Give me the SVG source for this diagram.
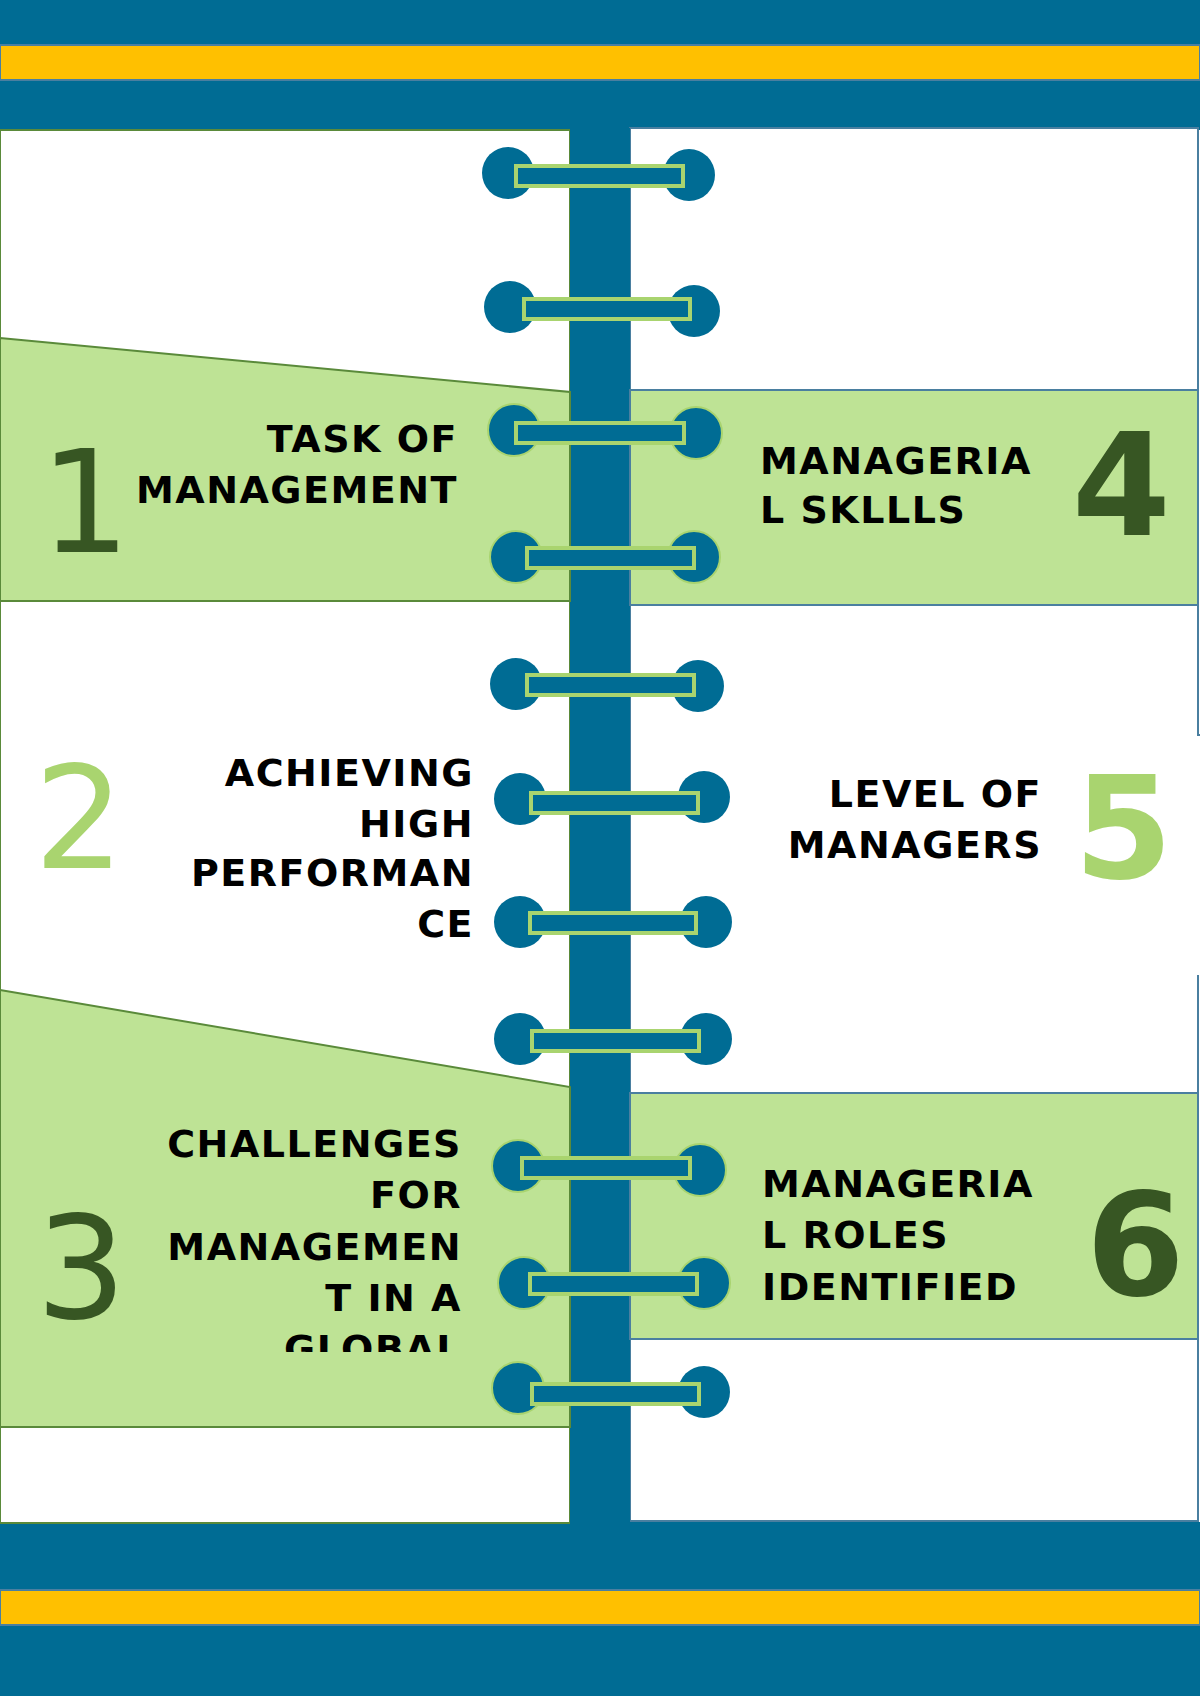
<svg xmlns="http://www.w3.org/2000/svg" width="1200" height="1696" viewBox="0 0 1200 1696">
<style>
.band{fill:#006c94}
.yel{fill:#ffc000;stroke:#4a7fa0;stroke-width:2}
.page{fill:#fff;stroke:#4a7fa0;stroke-width:2}
.pageL{fill:#fff;stroke:#5a8a3a;stroke-width:2}
.g{fill:#bee395;stroke:#5a8a3a;stroke-width:2}
.gr{fill:#bee395;stroke:#4a7fa0;stroke-width:2}
.t{font-family:"DejaVu Sans",sans-serif;font-weight:bold;font-size:38px;letter-spacing:1.5px;fill:#000}
.n{font-family:"DejaVu Sans",sans-serif;font-size:142px}
.dk{fill:#375623}.lt{fill:#a9d46f}
.c{fill:#006c94}
.bar{fill:#006c94;stroke:#a9d46f;stroke-width:4}
</style>
<defs><clipPath id="cl"><rect x="0" y="1000" width="600" height="352"/></clipPath></defs>
<rect width="1200" height="1696" fill="#fff"/>
<rect class="band" x="0" y="0" width="1200" height="130"/>
<rect class="yel" x="0" y="45" width="1200" height="35"/>
<rect class="band" x="0" y="1522" width="1200" height="174"/>
<rect class="yel" x="0" y="1590" width="1200" height="35"/>
<g id="left-page"><rect class="pageL" x="0" y="130" width="570" height="1393"/></g>
<g id="right-page"><path class="page" d="M1200,735 L1198,735 L1198,128 L630,128 L630,1521 L1198,1521 L1198,975"/></g>
<rect class="band" x="570" y="128" width="60" height="1400"/>
<g id="node1"><polygon class="g" points="0,338 570,392 570,601 0,601"/>
<text class="n dk" x="40" y="552">1</text>
<text class="t" x="458" y="452" text-anchor="end">TASK OF</text>
<text class="t" x="458" y="503" text-anchor="end">MANAGEMENT</text></g>
<g id="node2">
<text class="n lt" x="34" y="868">2</text>
<text class="t" x="474" y="786" text-anchor="end">ACHIEVING</text>
<text class="t" x="474" y="837" text-anchor="end">HIGH</text>
<text class="t" x="474" y="886" text-anchor="end">PERFORMAN</text>
<text class="t" x="474" y="937" text-anchor="end">CE</text></g>
<g id="node3"><polygon class="g" points="0,990 570,1087 570,1427 0,1427"/>
<text class="n dk" x="36" y="1318">3</text>
<g clip-path="url(#cl)">
<text class="t" x="462" y="1157" text-anchor="end">CHALLENGES</text>
<text class="t" x="462" y="1208" text-anchor="end">FOR</text>
<text class="t" x="462" y="1260" text-anchor="end">MANAGEMEN</text>
<text class="t" x="462" y="1311" text-anchor="end">T IN A</text>
<text class="t" x="462" y="1362" text-anchor="end">GLOBAL</text></g></g>
<g id="node4"><rect class="gr" x="630" y="390" width="568" height="215"/>
<text class="n dk" x="1072" y="535" font-weight="bold">4</text>
<text class="t" x="760" y="474">MANAGERIA</text>
<text class="t" x="760" y="523">L SKLLLS</text></g>
<g id="node5">
<text class="n lt" x="1074" y="878" font-weight="bold">5</text>
<text class="t" x="1042" y="807" text-anchor="end">LEVEL OF</text>
<text class="t" x="1042" y="858" text-anchor="end">MANAGERS</text></g>
<g id="node6"><rect class="gr" x="630" y="1093" width="568" height="246"/>
<text class="n dk" x="1086" y="1295" font-weight="bold">6</text>
<text class="t" x="762" y="1197">MANAGERIA</text>
<text class="t" x="762" y="1248">L ROLES</text>
<text class="t" x="762" y="1300">IDENTIFIED</text></g>
<g id="rings">
<circle class="c" cx="508" cy="173" r="26"/><circle class="c" cx="689" cy="175" r="26"/><rect class="bar" x="516" y="166" width="167" height="20"/>
<circle class="c" cx="510" cy="307" r="26"/><circle class="c" cx="694" cy="311" r="26"/><rect class="bar" x="524" y="299" width="166" height="20"/>
<circle class="c" cx="514" cy="430" r="26" stroke="#a9d46f" stroke-width="2"/><circle class="c" cx="696" cy="433" r="26" stroke="#a9d46f" stroke-width="2"/><rect class="bar" x="516" y="423" width="168" height="20"/>
<circle class="c" cx="516" cy="557" r="26" stroke="#a9d46f" stroke-width="2"/><circle class="c" cx="694" cy="557" r="26" stroke="#a9d46f" stroke-width="2"/><rect class="bar" x="527" y="548" width="167" height="20"/>
<circle class="c" cx="516" cy="684" r="26"/><circle class="c" cx="698" cy="686" r="26"/><rect class="bar" x="527" y="675" width="167" height="20"/>
<circle class="c" cx="520" cy="799" r="26"/><circle class="c" cx="704" cy="797" r="26"/><rect class="bar" x="531" y="793" width="167" height="20"/>
<circle class="c" cx="520" cy="922" r="26"/><circle class="c" cx="706" cy="922" r="26"/><rect class="bar" x="530" y="913" width="166" height="20"/>
<circle class="c" cx="520" cy="1039" r="26"/><circle class="c" cx="706" cy="1039" r="26"/><rect class="bar" x="532" y="1031" width="167" height="20"/>
<circle class="c" cx="518" cy="1166" r="26" stroke="#a9d46f" stroke-width="2"/><circle class="c" cx="700" cy="1170" r="26" stroke="#a9d46f" stroke-width="2"/><rect class="bar" x="522" y="1158" width="168" height="20"/>
<circle class="c" cx="524" cy="1283" r="26" stroke="#a9d46f" stroke-width="2"/><circle class="c" cx="704" cy="1283" r="26" stroke="#a9d46f" stroke-width="2"/><rect class="bar" x="530" y="1274" width="167" height="20"/>
<circle class="c" cx="518" cy="1388" r="26" stroke="#a9d46f" stroke-width="2"/><circle class="c" cx="704" cy="1392" r="26"/><rect class="bar" x="532" y="1384" width="167" height="20"/>
</g>
</svg>
